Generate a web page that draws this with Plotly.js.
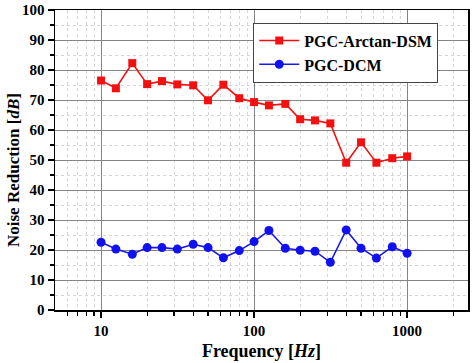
<!DOCTYPE html>
<html>
<head>
<meta charset="utf-8">
<script src="https://cdn.plot.ly/plotly-3.0.1.min.js"></script>
<style>html,body{margin:0;padding:0;background:#fff;}#chart{width:474px;height:363px;}</style>
</head>
<body>
<div id="chart"></div>
<script>
var frequency = [10, 12.5, 16, 20, 25, 31.5, 40, 50, 63, 80, 100, 125, 160, 200, 250, 315, 400, 500, 630, 800, 1000];
var arctanDSM = [76.5, 73.9, 82.3, 75.3, 76.3, 75.2, 74.9, 69.9, 75.1, 70.6, 69.3, 68.2, 68.7, 63.6, 63.2, 62.2, 49.1, 55.9, 49.1, 50.6, 51.2];
var dcm = [22.6, 20.3, 18.6, 20.8, 20.8, 20.3, 21.9, 20.8, 17.4, 19.8, 22.8, 26.5, 20.6, 19.9, 19.6, 15.9, 26.7, 20.6, 17.3, 21.1, 18.9];
var seriesNames = ["PGC-Arctan-DSM", "PGC-DCM"];
var xMajorTicks = [10, 100, 1000];
var xMajorLabels = ["10", "100", "1000"];
var xMinorTicks = [6, 7, 8, 9, 20, 30, 40, 50, 60, 70, 80, 90, 200, 300, 400, 500, 600, 700, 800, 900, 2000];
var xTitle = "Frequency [<i>Hz</i>]";
var yTitle = "Noise Reduction [<i>dB</i>]";

var font = {family: "Liberation Serif, Times New Roman, serif", color: "#000", weight: "bold"};

var traces = [
  {x: frequency, y: arctanDSM, name: seriesNames[0], type: "scatter", mode: "lines+markers",
   line: {color: "#f41010", width: 1.6}, marker: {symbol: "square", size: 8, color: "#f41010"}},
  {x: frequency, y: dcm, name: seriesNames[1], type: "scatter", mode: "lines+markers",
   line: {color: "#1a1ae6", width: 1.6}, marker: {symbol: "circle", size: 9, color: "#1010f0"}}
];

var layout = {
  width: 474, height: 363,
  margin: {l: 55, r: 6, t: 10, b: 53},
  paper_bgcolor: "#fff", plot_bgcolor: "#fff",
  showlegend: true,
  legend: {x: 0.48, y: 0.958, xanchor: "left", yanchor: "top", bgcolor: "#fff",
           bordercolor: "#444", borderwidth: 1, font: Object.assign({size: 16}, font),
           tracegroupgap: 0, itemwidth: 40},
  xaxis: {
    type: "log", range: [Math.log10(5), Math.log10(2500)],
    tickmode: "array", tickvals: xMajorTicks, ticktext: xMajorLabels,
    ticks: "outside", ticklen: 6, tickwidth: 1.5, tickcolor: "#000",
    showline: true, linecolor: "#000", linewidth: 1.5, mirror: true,
    showgrid: true, gridcolor: "#858585", gridwidth: 1,
    zeroline: false,
    tickfont: Object.assign({size: 15}, font),
    minor: {tickmode: "array", tickvals: xMinorTicks, ticks: "outside", ticklen: 4, tickwidth: 1.2, tickcolor: "#000",
            showgrid: true, gridcolor: "#d6d6d6", gridwidth: 1, griddash: "dot"},
    title: {text: xTitle, font: Object.assign({size: 18}, font), standoff: 7}
  },
  yaxis: {
    range: [0, 100], dtick: 10, tick0: 0,
    ticks: "outside", ticklen: 6, tickwidth: 1.5, tickcolor: "#000",
    showline: true, linecolor: "#000", linewidth: 1.5, mirror: true,
    showgrid: true, gridcolor: "#858585", gridwidth: 1,
    zeroline: false,
    tickfont: Object.assign({size: 15}, font),
    minor: {dtick: 5, ticks: "outside", ticklen: 4, tickwidth: 1.2, tickcolor: "#000",
            showgrid: true, gridcolor: "#d6d6d6", gridwidth: 1, griddash: "dot"}
  },
  annotations: [{
    text: yTitle, textangle: -90, showarrow: false,
    xref: "paper", yref: "paper", x: 0, y: 0.5, xanchor: "center", yanchor: "middle",
    xshift: -42, yshift: -10,
    font: Object.assign({size: 17}, font)
  }]
};

Plotly.newPlot("chart", traces, layout, {displayModeBar: false, staticPlot: true});
</script>
</body>
</html>
